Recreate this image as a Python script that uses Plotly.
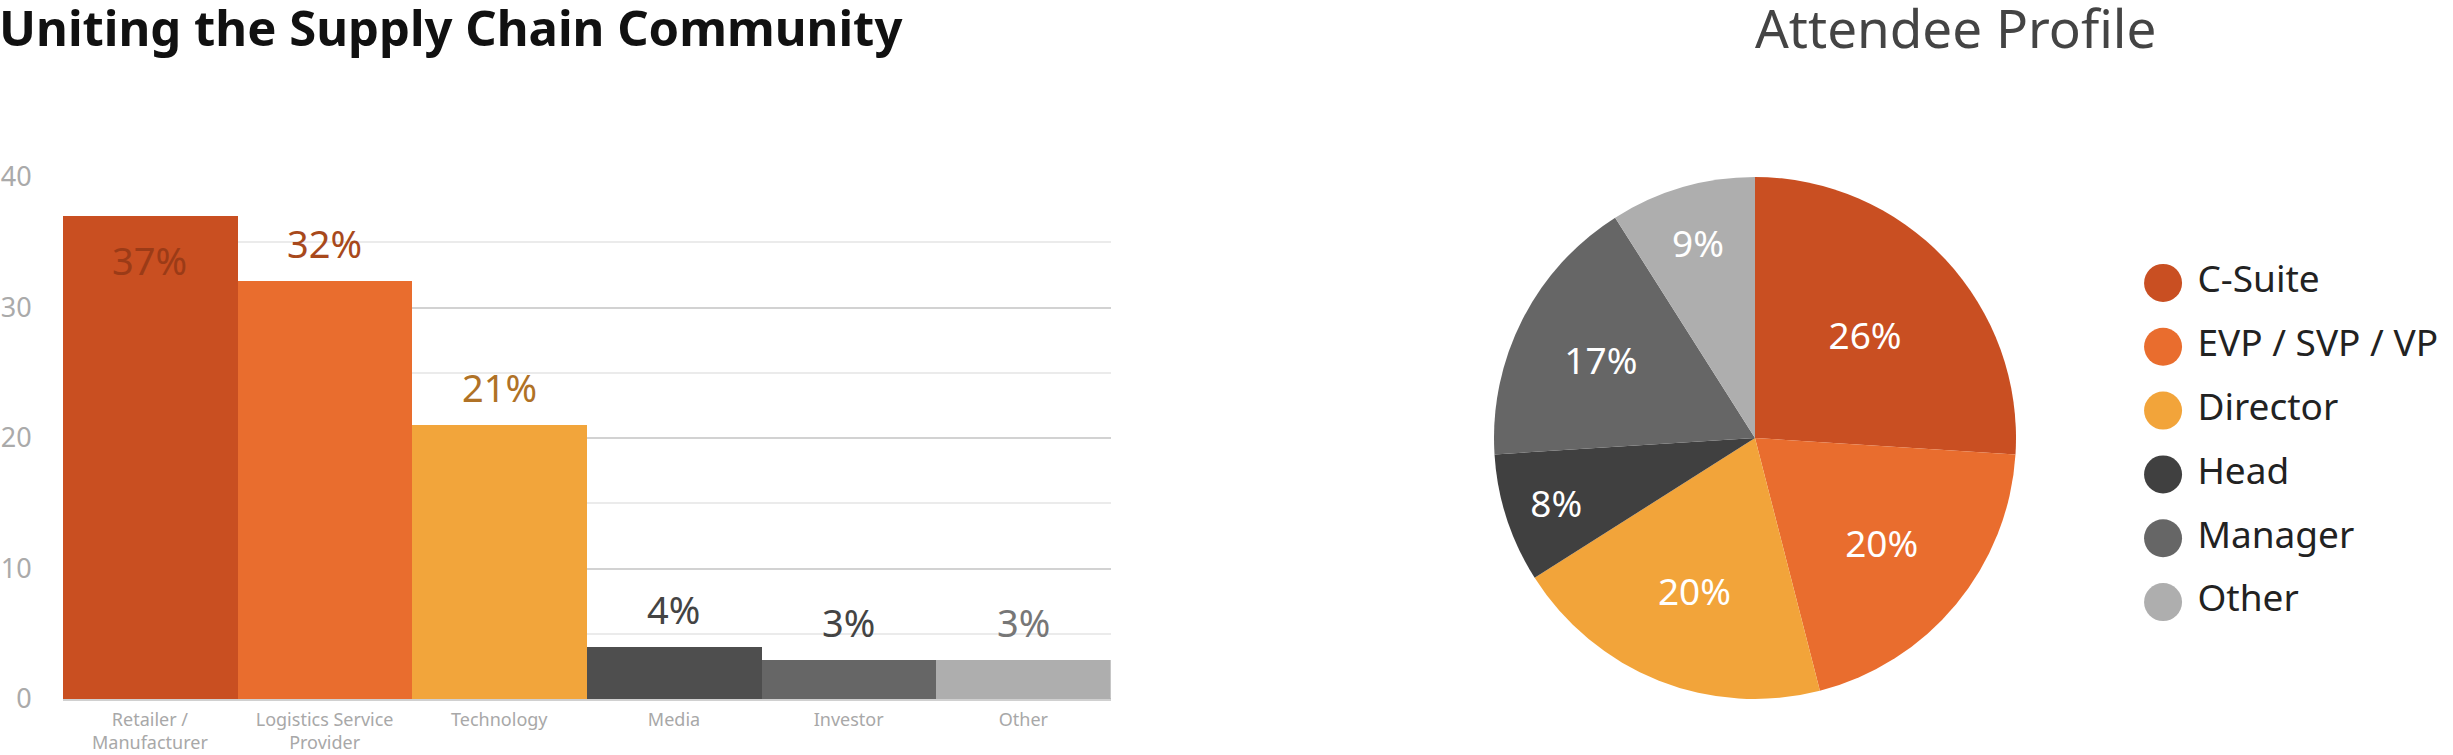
import plotly.graph_objects as go

# ---------------- data ----------------
sectors = ["Retailer /<br>Manufacturer", "Logistics Service<br>Provider", "Technology",
           "Media", "Investor", "Other"]
sector_share = [37, 32, 21, 4, 3, 3]
y_ticks = [0, 10, 20, 30, 40]

roles = ["C-Suite", "EVP / SVP / VP", "Director", "Head", "Manager", "Other"]
role_share = [26, 20, 20, 8, 17, 9]

# ---------------- styles ----------------
W, H = 2453, 755
bar_colors = ["#C94F21", "#E96D2E", "#F2A53B", "#4E4E4E", "#666666", "#AEAEAE"]
bar_label_colors = ["#9B3B17", "#A8491C", "#B07226", "#444444", "#444444", "#777777"]
bar_label_shift = [-44, 38, 38, 38, 38, 38]
pie_colors = ["#C94F22", "#E96D2E", "#F2A43A", "#404040", "#666666", "#AEAEAE"]
FONT = "Noto Sans"

def px_x(p):
    return p / W

def px_y(p):
    return 1 - p / H

fig = go.Figure()

# bar chart
fig.add_trace(go.Bar(
    x=sectors, y=sector_share, marker=dict(color=bar_colors, line=dict(width=0)),
    xaxis="x", yaxis="y", showlegend=False, hoverinfo="x+y",
))

for cat, val, col, dy in zip(sectors, sector_share, bar_label_colors, bar_label_shift):
    fig.add_annotation(x=cat, y=val, xref="x", yref="y", text=f"{val}%",
                       showarrow=False, yshift=dy,
                       font=dict(family=FONT, size=38, color=col))

# pie chart
fig.add_trace(go.Pie(
    labels=roles, values=role_share, sort=False, direction="clockwise", rotation=0,
    marker=dict(colors=pie_colors, line=dict(width=0)),
    texttemplate="%{value}%", textposition="inside", insidetextorientation="horizontal",
    textfont=dict(family=FONT, size=37, color="white"),
    domain=dict(x=[px_x(1494), px_x(2016)], y=[px_y(699), px_y(177)]),
    showlegend=False, hoverinfo="label+percent",
))

# custom legend with round markers
fig.add_trace(go.Scatter(
    x=[0] * len(roles), y=roles, mode="markers+text", xaxis="x2", yaxis="y2",
    marker=dict(size=38, color=pie_colors, line=dict(width=0)),
    text=[" " + r for r in roles], textposition="middle right",
    textfont=dict(family=FONT, size=37, color="#222222"),
    cliponaxis=False, showlegend=False, hoverinfo="skip",
))

fig.update_layout(
    width=W, height=H,
    margin=dict(l=0, r=0, t=0, b=0, autoexpand=False),
    paper_bgcolor="white", plot_bgcolor="white",
    bargap=0,
    xaxis=dict(domain=[px_x(62.6), px_x(1110.7)], showgrid=False, zeroline=False,
               showline=False, ticks="", ticklabelstandoff=8, automargin=False,
               tickfont=dict(family=FONT, size=18, color="#A8A8A8")),
    yaxis=dict(domain=[px_y(699), px_y(177)], range=[0, 40], tickvals=y_ticks,
               showgrid=True, gridcolor="#D2D2D2", gridwidth=2, automargin=False,
               minor=dict(dtick=5, showgrid=True, gridcolor="#EBEBEB", gridwidth=2),
               zeroline=True, zerolinecolor="#D0D0D0", zerolinewidth=3,
               showline=False, ticks="", ticklabelstandoff=30,
               tickfont=dict(family=FONT, size=27, color="#AAAAAA")),
    xaxis2=dict(domain=[px_x(2143), 1.0], range=[-1, 14.45], visible=False,
                fixedrange=True, automargin=False),
    yaxis2=dict(domain=[px_y(634), px_y(251)], range=[5.5, -0.5], visible=False,
                type="category", fixedrange=True, automargin=False),
    annotations=list(fig.layout.annotations) + [
        dict(text="<b>Uniting the Supply Chain Community</b>", xref="paper", yref="paper",
             x=0, y=1, xanchor="left", yanchor="top", showarrow=False, xshift=-3, yshift=8,
             font=dict(family=FONT, size=49, color="#111111")),
        dict(text="Attendee Profile", xref="paper", yref="paper",
             x=px_x(1955), y=1, xanchor="center", yanchor="top", showarrow=False, yshift=11,
             font=dict(family=FONT, size=53, color="#444444")),
    ],
)

fig.write_html("out.html", config={"displayModeBar": False},
               post_script="document.body.style.margin='0';document.body.style.padding='0';")
